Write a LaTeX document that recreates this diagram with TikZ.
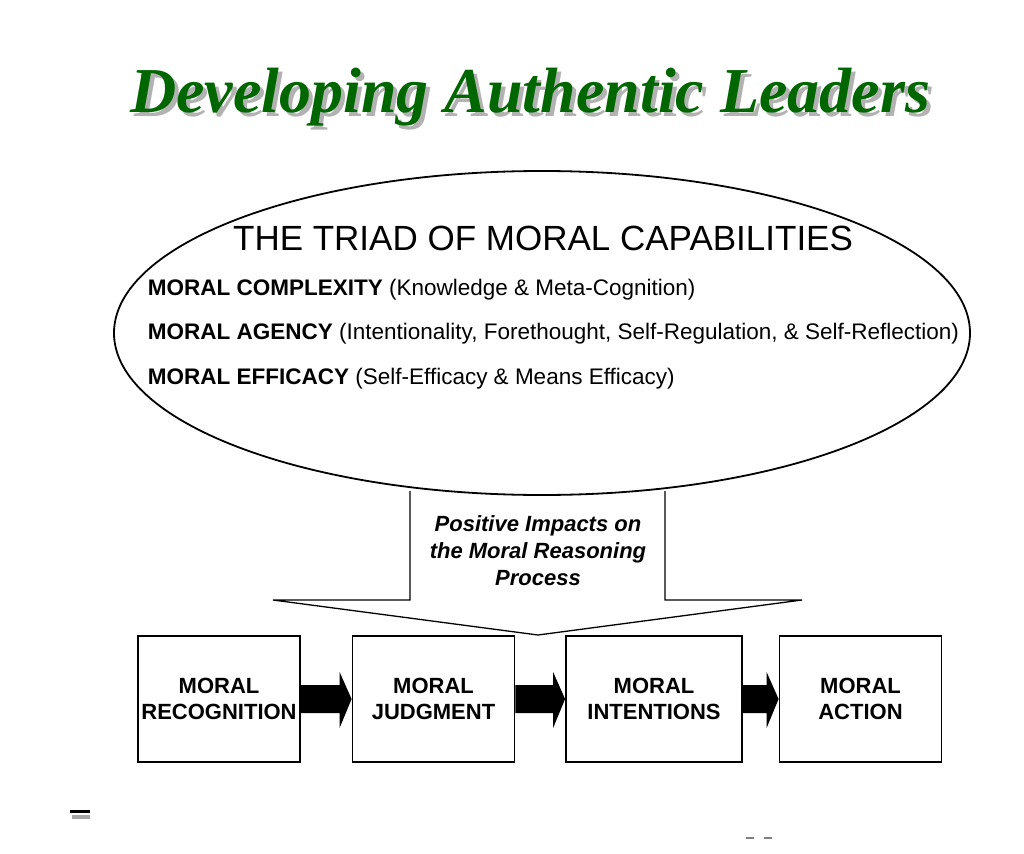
\documentclass[tikz,border=0pt]{standalone}
\usepackage{fontspec}
\usetikzlibrary{shapes.geometric}
\setmainfont{Liberation Sans}
\newfontfamily\titlefont{Liberation Serif}
\begin{document}
\begin{tikzpicture}[x=1pt,y=-1pt,line width=1.8pt,
  box/.style={draw,minimum width=162pt,minimum height=126pt,align=center,font=\fontsize{22}{26}\selectfont\bfseries,inner sep=0pt},
  ln/.style={anchor=west,font=\fontsize{22.5}{26}\selectfont,inner sep=0pt}]
\useasboundingbox (0,0) rectangle (1024,853);
\node[text=gray!60,font=\fontsize{64}{70}\selectfont] at (534,101) {\titlefont\bfseries\itshape Developing Authentic Leaders};
\node[text=green!40!black,font=\fontsize{64}{70}\selectfont] (title) at (530,97) {\titlefont\bfseries\itshape Developing Authentic Leaders};
\node[draw,ellipse,minimum width=856pt,minimum height=324pt,inner sep=0pt] (ell) at (542,333) {};
\node[font=\fontsize{35}{40}\selectfont] (triad) at (543,238) {THE TRIAD OF MORAL CAPABILITIES};
\node[ln] (l1) at (147,290) {\textbf{MORAL COMPLEXITY} (Knowledge \& Meta-Cognition)};
\node[ln] (l2) at (147,334) {\textbf{MORAL AGENCY} (Intentionality, Forethought, Self-Regulation, \& Self-Reflection)};
\node[ln] (l3) at (147,379) {\textbf{MORAL EFFICACY} (Self-Efficacy \& Means Efficacy)};
\draw[line width=1.3pt,line join=miter] (410,491) -- (410,600) -- (273,600) -- (538,635) -- (802,600) -- (665,600) -- (665,491);
\node[align=center,font=\fontsize{22}{27}\selectfont\bfseries\itshape] (pos) at (538,551) {Positive Impacts on\\the Moral Reasoning\\Process};
\node[box] (b1) at (219,699) {MORAL\\RECOGNITION};
\node[box] (b2) at (433.5,699) {MORAL\\JUDGMENT};
\node[box,minimum width=176pt] (b3) at (654,699) {MORAL\\INTENTIONS};
\node[box] (b4) at (860.5,699) {MORAL\\ACTION};
\foreach \a/\b in {b1/b2,b2/b3,b3/b4}{
  \fill (\a.east |- 0,685) -- ([xshift=-12pt]\b.west |- 0,685) -- ([xshift=-12pt]\b.west |- 0,672) -- (\b.west) -- ([xshift=-12pt]\b.west |- 0,728) -- ([xshift=-12pt]\b.west |- 0,713) -- (\a.east |- 0,713) -- cycle;
}
\fill (70,810) rectangle (90,813);
\fill[gray!70] (72,815) rectangle (90,819);
\fill[gray] (746,837) rectangle (754,839);
\fill[gray] (764,837) rectangle (772,839);
\end{tikzpicture}
\end{document}
